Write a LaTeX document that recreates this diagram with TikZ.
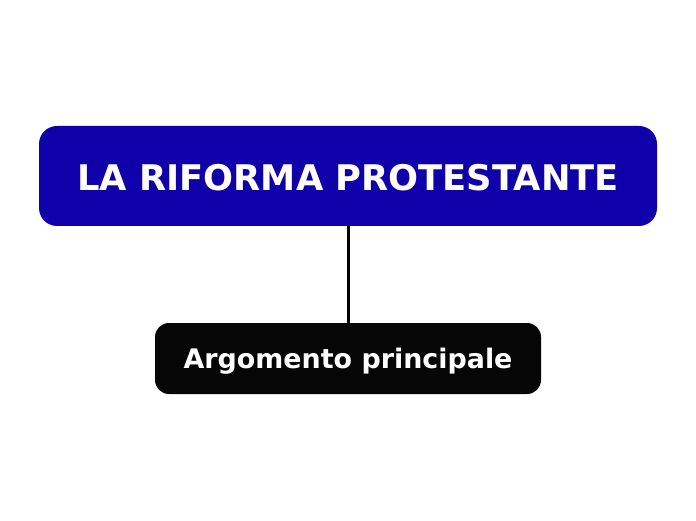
\documentclass[tikz,border=0pt]{standalone}
\usepackage{fontspec}
\setmainfont{DejaVu Sans}
\definecolor{topblue}{HTML}{1000AA}
\definecolor{subblack}{HTML}{060606}
\begin{document}
\begin{tikzpicture}[x=1pt,y=1pt,
  mainbox/.style={fill=topblue,rounded corners=18pt,minimum width=618pt,minimum height=100pt,inner sep=0pt},
  subbox/.style={fill=subblack,rounded corners=14pt,minimum width=386pt,minimum height=71pt,inner sep=0pt},
  maintext/.style={text=white,font=\bfseries\fontsize{35.3}{42}\selectfont,inner sep=0pt},
  subtext/.style={text=white,font=\bfseries\fontsize{26.9}{32}\selectfont,inner sep=0pt},
  link/.style={line width=3pt,draw=black}]
\useasboundingbox (0,0) rectangle (696,520);
\node[mainbox] (main) at (348,344) {};
\node[maintext] (maint) at (348,342) {LA RIFORMA PROTESTANTE};
\node[subbox] (sub) at (348,161.5) {};
\node[subtext] (subt) at (348,159) {Argomento principale};
\draw[link] (main.south) -- (sub.north);
\end{tikzpicture}
\end{document}
